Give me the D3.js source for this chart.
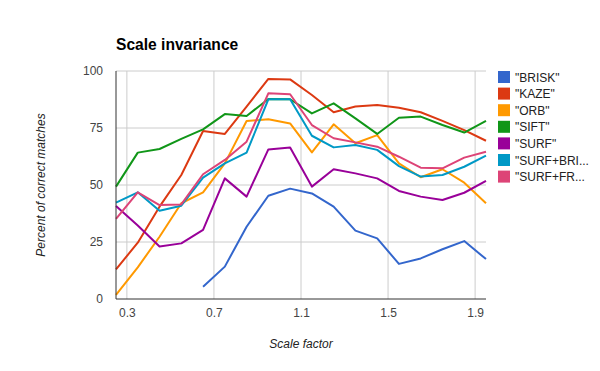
<!DOCTYPE html>
<html>
<head>
<meta charset="utf-8">
<script src="https://cdn.jsdelivr.net/npm/d3@7"></script>
<style>
  body { margin: 0; background: #fff; }
  svg { display: block; font-family: Arial, "Liberation Sans", sans-serif; }
</style>
</head>
<body>
<div id="chart"></div>
<script>
// Scale factors (x values)
const scales = [0.25, 0.35, 0.45, 0.55, 0.65, 0.75, 0.85, 0.95, 1.05,
                1.15, 1.25, 1.35, 1.45, 1.55, 1.65, 1.75, 1.85, 1.95];

// Percent of correct matches per detector
const brisk = [null, null, null, null, 5.4, 14.2, 31.7, 45.3, 48.4,
               46.3, 40.5, 30, 26.6, 15.4, 17.8, 21.8, 25.4, 17.5];
const kaze = [13, 24.7, 40.5, 54.4, 73.7, 72.4, 84.4, 96.5, 96.3,
              89.5, 81.9, 84.4, 85.1, 83.9, 81.9, 78.1, 74.1, 69.4];
const orb = [1.8, 13.9, 27.3, 42, 46.8, 59.5, 78.1, 78.8, 77,
             64.3, 76.6, 68.3, 71.9, 59.5, 53.4, 56.9, 51, 42];
const sift = [49.3, 64.2, 65.8, 70.2, 74.4, 81.1, 80.3, 87.7, 87.6,
              81.4, 85.8, 79.2, 72.4, 79.5, 80, 76.3, 73, 78.1];
const surf = [40.8, 32.2, 23, 24.4, 30.3, 52.9, 44.9, 65.6, 66.4,
              49.3, 56.9, 55.1, 52.9, 47.4, 44.9, 43.4, 46.6, 51.8];
const surfBrisk = [42.3, 46.8, 38.7, 40.9, 53.2, 59.5, 64.2, 87.6, 87.6,
                   71.6, 66.5, 67.5, 65.4, 58.3, 53.7, 54.4, 58, 62.9];
const surfFreak = [35.1, 46.8, 41.2, 41.5, 54.7, 61, 69, 90.2, 89.8,
                   76.3, 70.5, 68.7, 66.8, 62.4, 57.6, 57.3, 62, 64.6];

const seriesNames = ['"BRISK"', '"KAZE"', '"ORB"', '"SIFT"', '"SURF"', '"SURF+BRI...', '"SURF+FR...'];
const seriesValues = [brisk, kaze, orb, sift, surf, surfBrisk, surfFreak];
const colors = ['#3366cc', '#dc3912', '#ff9900', '#109618', '#990099', '#0099c6', '#dd4477'];

const xTicks = [0.3, 0.7, 1.1, 1.5, 1.9];
const yTicks = [0, 25, 50, 75, 100];

// Dimensions
const width = 600, height = 371;
const margin = {top: 71, left: 116, right: 114, bottom: 72};
const innerW = width - margin.left - margin.right,
    innerH = height - margin.top - margin.bottom;

const svg = d3.select('#chart')
    .append('svg')
    .attr('width', width)
    .attr('height', height);

const g = svg.append('g')
    .attr('transform', `translate(${margin.left}, ${margin.top})`);

// Scales
const xScale = d3.scaleLinear().domain([0.25, 1.95]).range([0, innerW]);
const yScale = d3.scaleLinear().domain([0, 100]).range([innerH, 0]);

// Gridlines
g.append('g')
    .selectAll('line')
    .data(yTicks.filter(d => d > 0))
    .enter().append('line')
    .attr('x1', 0).attr('x2', innerW)
    .attr('y1', d => yScale(d)).attr('y2', d => yScale(d))
    .attr('stroke', '#cccccc');

g.append('g')
    .selectAll('line')
    .data(xTicks)
    .enter().append('line')
    .attr('x1', d => xScale(d)).attr('x2', d => xScale(d))
    .attr('y1', 0).attr('y2', innerH)
    .attr('stroke', '#cccccc');

// Axes (labels only, Google-style)
const xAxis = g.append('g')
    .attr('transform', `translate(0, ${innerH})`)
    .call(d3.axisBottom(xScale).tickValues(xTicks).tickSize(0).tickPadding(9).tickFormat(d3.format('.1f')));
xAxis.select('.domain').remove();
xAxis.selectAll('text').attr('fill', '#444').style('font-size', '12px');

const yAxis = g.append('g')
    .call(d3.axisLeft(yScale).tickValues(yTicks).tickSize(0).tickPadding(13));
yAxis.select('.domain').remove();
yAxis.selectAll('text').attr('fill', '#444').style('font-size', '12px');

// Lines
const line = d3.line()
    .defined(d => d.v != null)
    .x(d => xScale(d.x))
    .y(d => yScale(d.v));

seriesValues.forEach((vals, i) => {
    g.append('path')
        .datum(vals.map((v, j) => ({x: scales[j], v: v})))
        .attr('d', line)
        .attr('fill', 'none')
        .attr('stroke', colors[i])
        .attr('stroke-width', 2)
        .attr('stroke-linejoin', 'round');
});

// Axis lines
g.append('line')
    .attr('x1', 0).attr('x2', 0).attr('y1', 0).attr('y2', innerH)
    .attr('stroke', '#333');
g.append('line')
    .attr('x1', 0).attr('x2', innerW).attr('y1', innerH).attr('y2', innerH)
    .attr('stroke', '#333');

// Title
svg.append('text')
    .attr('x', margin.left)
    .attr('y', 50)
    .attr('font-size', '15.6px')
    .attr('font-weight', 'bold')
    .attr('fill', '#000')
    .text('Scale invariance');

// Axis titles
svg.append('text')
    .attr('x', margin.left + innerW / 2)
    .attr('y', 348)
    .attr('text-anchor', 'middle')
    .attr('font-size', '12px')
    .attr('font-style', 'italic')
    .attr('fill', '#222')
    .text('Scale factor');

svg.append('text')
    .attr('transform', `translate(45, ${margin.top + innerH / 2}) rotate(-90)`)
    .attr('text-anchor', 'middle')
    .attr('font-size', '12px')
    .attr('font-style', 'italic')
    .attr('fill', '#222')
    .text('Percent of correct matches');

// Legend
const legend = svg.append('g')
    .attr('transform', 'translate(498, 71)');

const items = legend.selectAll('g')
    .data(seriesNames)
    .enter().append('g')
    .attr('transform', (d, i) => `translate(0, ${i * 16.6})`);

items.append('rect')
    .attr('width', 12).attr('height', 12)
    .attr('fill', (d, i) => colors[i]);

items.append('text')
    .attr('x', 17)
    .attr('y', 10.5)
    .attr('font-size', '12px')
    .attr('fill', '#222')
    .text(d => d);
</script>
</body>
</html>
